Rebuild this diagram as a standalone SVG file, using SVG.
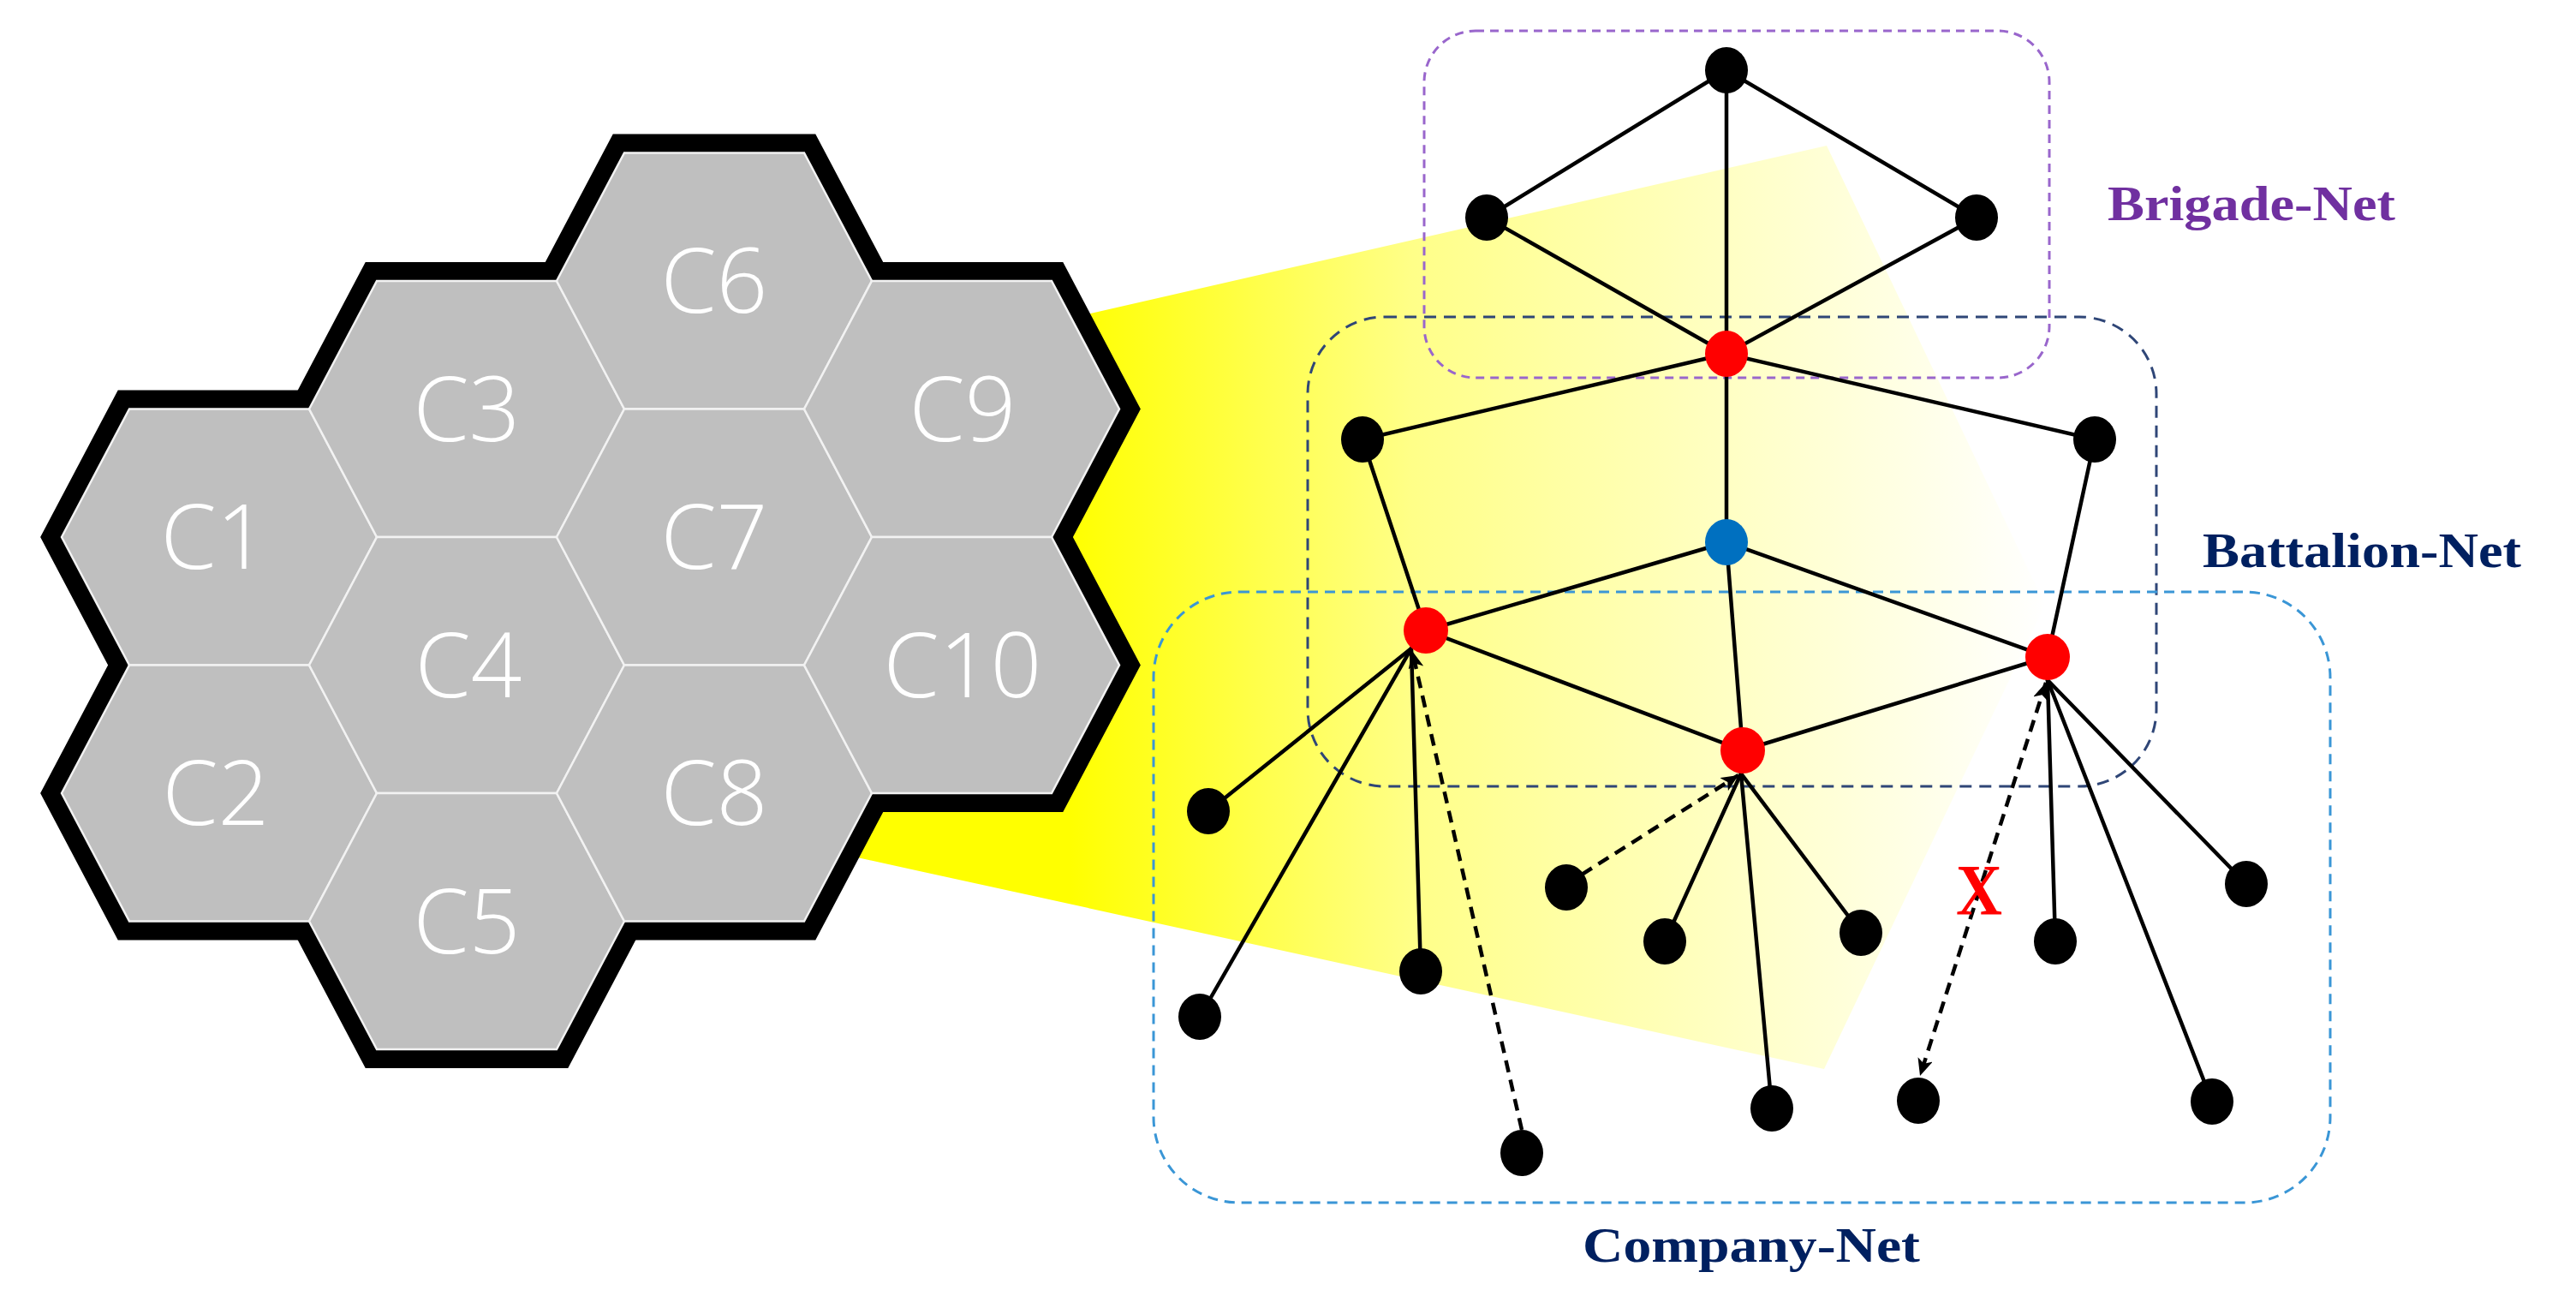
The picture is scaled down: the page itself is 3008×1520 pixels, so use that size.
<svg xmlns="http://www.w3.org/2000/svg" width="3008" height="1520" viewBox="0 0 3008 1520">
<style>
.hexb{fill:#000;stroke:#000;stroke-width:44;stroke-linejoin:miter}
.hexg{fill:#BFBFBF;stroke:#F2F2F2;stroke-width:2.5}
.ht{font-family:"Open Sans","Noto Sans",sans-serif;font-weight:300;font-size:105px;fill:#fff;text-anchor:middle}
.e{stroke:#000;stroke-width:4.5;fill:none;stroke-linecap:round}
.ed{stroke:#000;stroke-width:4.5;fill:none;stroke-dasharray:14 9}
.nb{fill:#000}
.nr{fill:#FF0000}
.nu{fill:#0070C0}
.lbl{font-family:"Liberation Serif","Times New Roman",serif;font-weight:bold;font-size:58px}
</style>
<defs>
<path id="hex" d="M-184,0 L-105,-149.5 L105,-149.5 L184,0 L105,149.5 L-105,149.5 Z"/>
<linearGradient id="beam" gradientUnits="userSpaceOnUse" x1="1250" y1="0" x2="2390" y2="0">
<stop offset="0" stop-color="#FFFF00"/>
<stop offset="0.35" stop-color="#FFFF88"/>
<stop offset="0.75" stop-color="#FFFFD2"/>
<stop offset="1" stop-color="#FFFFFF"/>
</linearGradient>
<marker id="arr" markerUnits="userSpaceOnUse" markerWidth="24" markerHeight="20" refX="20" refY="9" orient="auto-start-reverse" viewBox="0 0 24 20">
<path d="M0,0 L20,9 L0,18 L5,9 Z" fill="#000"/>
</marker>
</defs>
<rect width="3008" height="1520" fill="#fff"/>
<polygon id="beam-shape" points="900,451 2133,170 2388,706 2130,1248 900,979" fill="url(#beam)"/>
<g id="hexagons">
<g id="outline">
<use href="#hex" class="hexb" x="256" y="627"/>
<use href="#hex" class="hexb" x="256" y="926"/>
<use href="#hex" class="hexb" x="545" y="477.5"/>
<use href="#hex" class="hexb" x="545" y="776.5"/>
<use href="#hex" class="hexb" x="545" y="1075.5"/>
<use href="#hex" class="hexb" x="834" y="328"/>
<use href="#hex" class="hexb" x="834" y="627"/>
<use href="#hex" class="hexb" x="834" y="926"/>
<use href="#hex" class="hexb" x="1123" y="477.5"/>
<use href="#hex" class="hexb" x="1123" y="776.5"/>
</g>
<g id="C1"><use href="#hex" class="hexg" x="256" y="627"/><text class="ht" x="250" y="664">C1</text></g>
<g id="C2"><use href="#hex" class="hexg" x="256" y="926"/><text class="ht" x="252" y="963">C2</text></g>
<g id="C3"><use href="#hex" class="hexg" x="545" y="477.5"/><text class="ht" x="545" y="515">C3</text></g>
<g id="C4"><use href="#hex" class="hexg" x="545" y="776.5"/><text class="ht" x="547" y="814">C4</text></g>
<g id="C5"><use href="#hex" class="hexg" x="545" y="1075.5"/><text class="ht" x="545" y="1113">C5</text></g>
<g id="C6"><use href="#hex" class="hexg" x="834" y="328"/><text class="ht" x="834" y="365">C6</text></g>
<g id="C7"><use href="#hex" class="hexg" x="834" y="627"/><text class="ht" x="834" y="664">C7</text></g>
<g id="C8"><use href="#hex" class="hexg" x="834" y="926"/><text class="ht" x="834" y="963">C8</text></g>
<g id="C9"><use href="#hex" class="hexg" x="1123" y="477.5"/><text class="ht" x="1124" y="515">C9</text></g>
<g id="C10"><use href="#hex" class="hexg" x="1123" y="776.5"/><text class="ht" x="1124" y="814">C10</text></g>
</g>
<g id="groups" fill="none" stroke-width="3">
<rect id="brigade-box" x="1663" y="36" width="730" height="405" rx="60" stroke="#9966CC" stroke-dasharray="10 7"/>
<rect id="battalion-box" x="1527" y="370" width="991" height="548" rx="90" stroke="#2F4677" stroke-dasharray="14 9"/>
<rect id="company-box" x="1347" y="691" width="1374" height="713" rx="100" stroke="#3A96D6" stroke-dasharray="12 8"/>
</g>
<g id="connectors">
<line class="e" x1="2016" y1="82" x2="1736" y2="254"/>
<line class="e" x1="2016" y1="82" x2="2308" y2="254"/>
<line class="e" x1="2016" y1="82" x2="2016" y2="413"/>
<line class="e" x1="1736" y1="254" x2="2016" y2="413"/>
<line class="e" x1="2308" y1="254" x2="2016" y2="413"/>
<line class="e" x1="2016" y1="413" x2="1591" y2="513"/>
<line class="e" x1="2016" y1="413" x2="2446" y2="513"/>
<line class="e" x1="2016" y1="413" x2="2016" y2="633"/>
<line class="e" x1="1591" y1="513" x2="1665" y2="736"/>
<line class="e" x1="2446" y1="513" x2="2391" y2="767"/>
<line class="e" x1="2016" y1="633" x2="1665" y2="736"/>
<line class="e" x1="2016" y1="633" x2="2391" y2="767"/>
<line class="e" x1="2016" y1="633" x2="2035" y2="876"/>
<line class="e" x1="1665" y1="736" x2="2035" y2="876"/>
<line class="e" x1="2391" y1="767" x2="2035" y2="876"/>
<line class="e" x1="1648" y1="757" x2="1411" y2="947"/>
<line class="e" x1="1648" y1="757" x2="1401" y2="1187"/>
<line class="e" x1="1648" y1="757" x2="1659" y2="1134"/>
<line class="ed" x1="1777" y1="1319" x2="1649" y2="760" marker-end="url(#arr)"/>
<line class="ed" x1="1847" y1="1021" x2="2030" y2="905" marker-end="url(#arr)"/>
<line class="e" x1="2033" y1="903" x2="1944" y2="1099"/>
<line class="e" x1="2033" y1="903" x2="2173" y2="1089"/>
<line class="e" x1="2033" y1="903" x2="2069" y2="1294"/>
<line class="e" x1="2391" y1="794" x2="2400" y2="1099"/>
<line class="e" x1="2391" y1="794" x2="2623" y2="1032"/>
<line class="e" x1="2391" y1="794" x2="2583" y2="1286"/>
<line class="ed" x1="2389" y1="797" x2="2242" y2="1256" marker-start="url(#arr)" marker-end="url(#arr)"/>
</g>
<g id="nodes">
<ellipse id="n-top" class="nb" cx="2016" cy="82" rx="25" ry="27"/>
<ellipse id="n-bl" class="nb" cx="1736" cy="254" rx="25" ry="27"/>
<ellipse id="n-br" class="nb" cx="2308" cy="254" rx="25" ry="27"/>
<ellipse id="n-rt" class="nr" cx="2016" cy="413" rx="25" ry="27"/>
<ellipse id="n-al" class="nb" cx="1591" cy="513" rx="25" ry="27"/>
<ellipse id="n-ar" class="nb" cx="2446" cy="513" rx="25" ry="27"/>
<ellipse id="n-blue" class="nu" cx="2016" cy="633" rx="25" ry="27"/>
<ellipse id="n-rl" class="nr" cx="1665" cy="736" rx="26" ry="27"/>
<ellipse id="n-rr" class="nr" cx="2391" cy="767" rx="26" ry="27"/>
<ellipse id="n-rm" class="nr" cx="2035" cy="876" rx="26" ry="27"/>
<ellipse id="n-a" class="nb" cx="1411" cy="947" rx="25" ry="27"/>
<ellipse id="n-b" class="nb" cx="1401" cy="1187" rx="25" ry="27"/>
<ellipse id="n-c" class="nb" cx="1659" cy="1134" rx="25" ry="27"/>
<ellipse id="n-d" class="nb" cx="1777" cy="1346" rx="25" ry="27"/>
<ellipse id="n-e" class="nb" cx="1829" cy="1036" rx="25" ry="27"/>
<ellipse id="n-f" class="nb" cx="1944" cy="1099" rx="25" ry="27"/>
<ellipse id="n-g" class="nb" cx="2173" cy="1089" rx="25" ry="27"/>
<ellipse id="n-h" class="nb" cx="2069" cy="1294" rx="25" ry="27"/>
<ellipse id="n-i" class="nb" cx="2240" cy="1285" rx="25" ry="27"/>
<ellipse id="n-j" class="nb" cx="2400" cy="1099" rx="25" ry="27"/>
<ellipse id="n-k" class="nb" cx="2623" cy="1032" rx="25" ry="27"/>
<ellipse id="n-l" class="nb" cx="2583" cy="1286" rx="25" ry="27"/>
</g>
<g id="labels">
<text class="lbl" x="2461" y="257" fill="#7030A0" textLength="336" lengthAdjust="spacingAndGlyphs">Brigade-Net</text>
<text class="lbl" x="2572" y="662" fill="#002060" textLength="372" lengthAdjust="spacingAndGlyphs">Battalion-Net</text>
<text class="lbl" x="1848" y="1473" fill="#002060" textLength="394" lengthAdjust="spacingAndGlyphs">Company-Net</text>
<text x="2311" y="1068" fill="#FF0000" font-family="Liberation Serif, serif" font-weight="bold" font-size="84" text-anchor="middle" textLength="54" lengthAdjust="spacingAndGlyphs">X</text>
</g>
</svg>
